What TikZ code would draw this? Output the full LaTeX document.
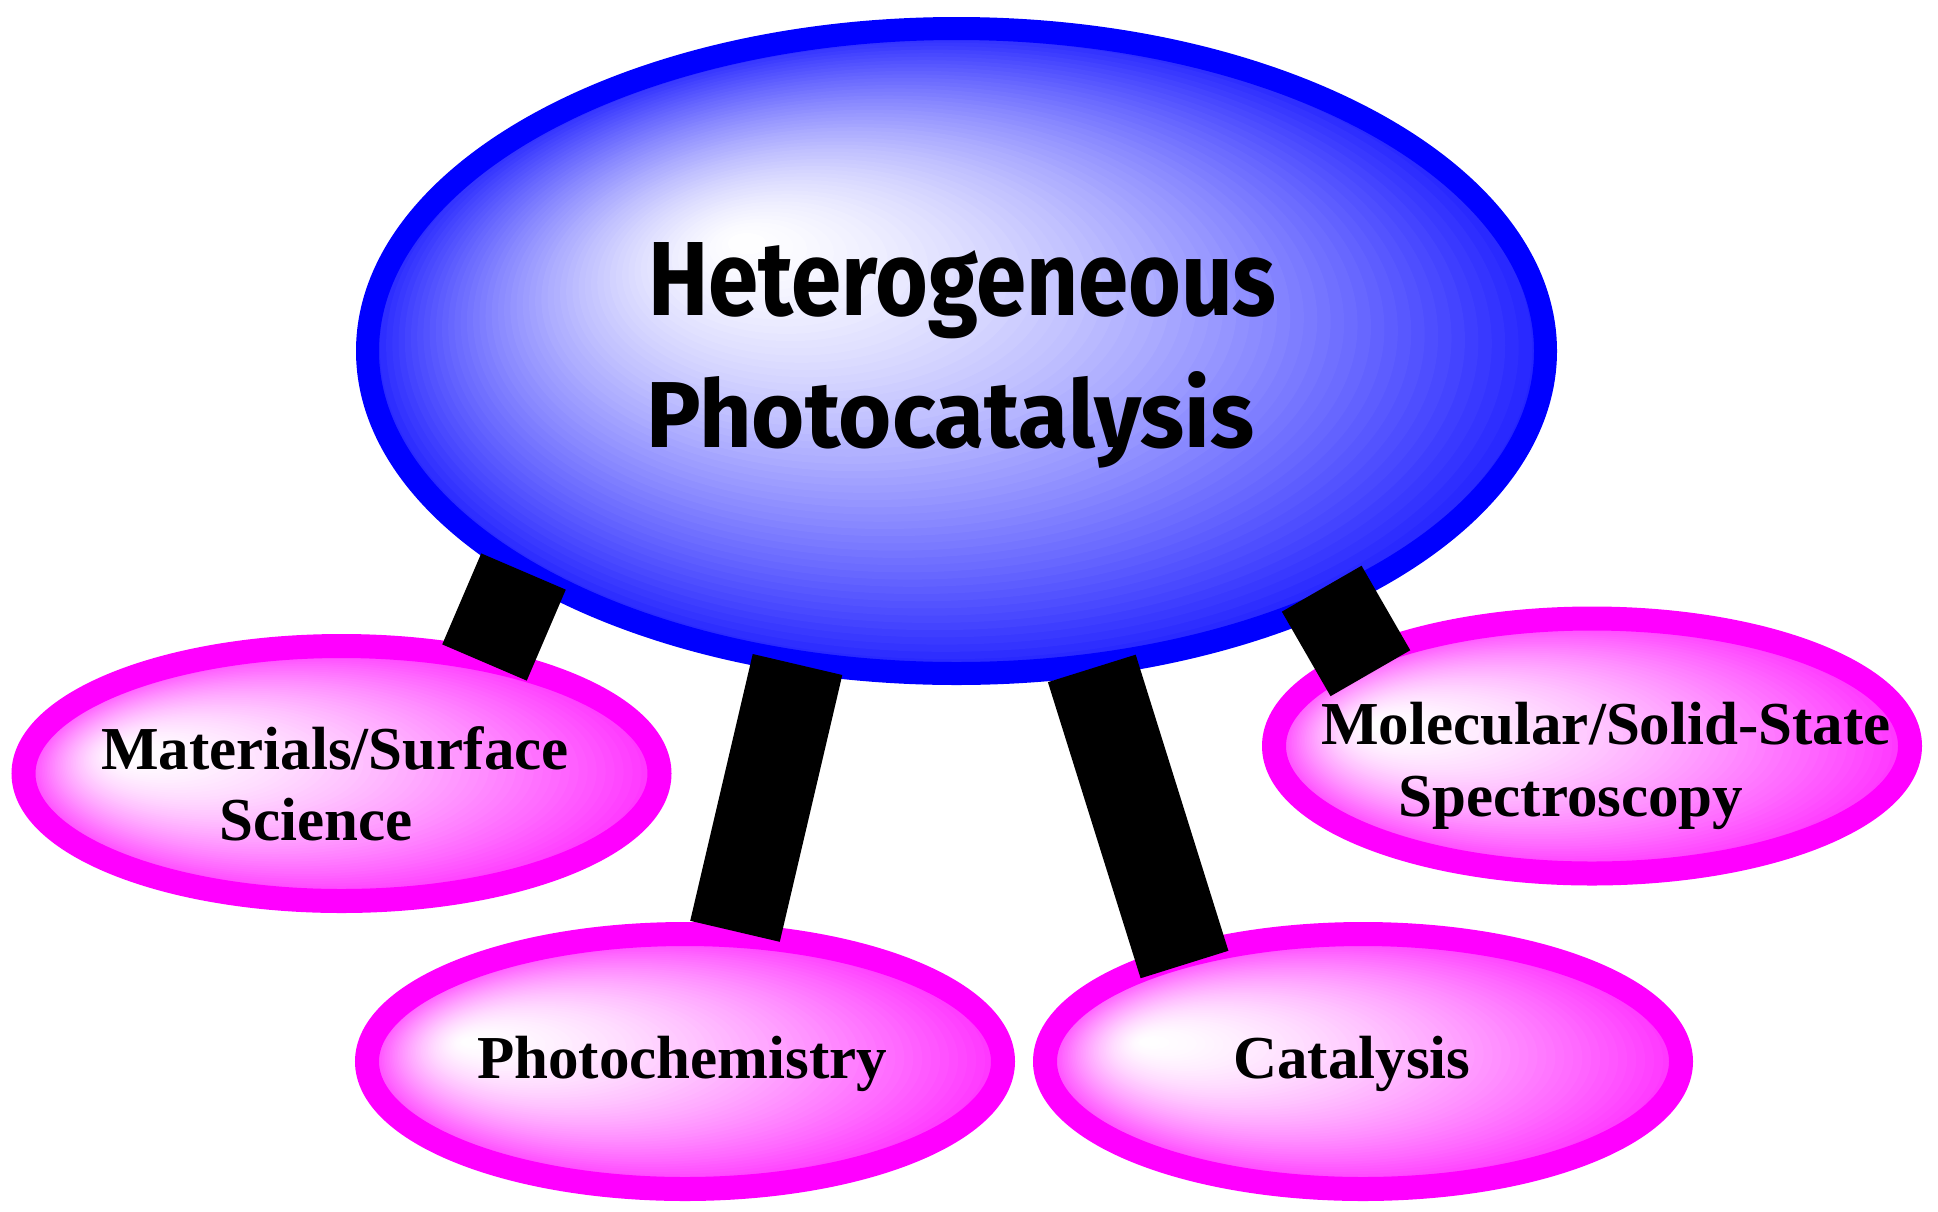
\documentclass[tikz,border=0pt]{standalone}
\usepackage{fontspec}
\setmainfont{Liberation Serif}
\newfontfamily\headfont{Fira Sans}
\usetikzlibrary{shapes.geometric}
\definecolor{pureblue}{RGB}{0,0,255}
\definecolor{mag}{RGB}{255,0,255}
% path gradient: ellipse centre (#1,#2), radii #3,#4, focus (#5,#6), colour #7, exponent #8, rim strength #9
\newcommand{\pathgrad}[9]{%
  \foreach \i in {0,...,59}{%
    \pgfmathsetmacro\gs{1-\i/60}%
    \pgfmathsetmacro\gp{min(100,#9*(\gs)^(#8))}%
    \pgfmathsetmacro\gx{#5+\gs*(#1-#5)}%
    \pgfmathsetmacro\gy{#6+\gs*(#2-#6)}%
    \fill[#7!\gp!white] (\gx,\gy) ellipse [x radius=\gs*#3, y radius=\gs*#4];
  }}
\begin{document}
\begin{tikzpicture}[x=1pt,y=-1pt,
  hub/.style={ellipse, draw=pureblue, line width=23pt, minimum width=1178pt, minimum height=645pt, inner sep=0pt, outer sep=0pt},
  leaf/.style={ellipse, draw=mag, line width=24pt, minimum width=636pt, minimum height=255pt, inner sep=0pt, outer sep=0pt},
  bar/.style={line width=92pt, black, line cap=butt},
  headtxt/.style={font=\headfont\bfseries, anchor=base west, inner sep=0pt},
  lbl/.style={font=\fontsize{61}{70}\selectfont\bfseries, anchor=base, inner sep=0pt}]
\path[use as bounding box, fill=white] (0,0) rectangle (1938,1211);
% gradients
\pathgrad{956.5}{351}{589}{322.5}{740}{240}{pureblue}{1.5}{86}
\pathgrad{341.5}{773.5}{318}{127.5}{121.5}{753.5}{mag}{1.5}{80}
\pathgrad{685}{1061.5}{318}{127.5}{465}{1041.5}{mag}{1.5}{80}
\pathgrad{1363}{1061.5}{318}{127.5}{1143}{1041.5}{mag}{1.5}{80}
\pathgrad{1592}{746}{318}{127.5}{1372}{726}{mag}{1.5}{80}
% shapes
\node[hub] (hub) at (956.5,351) {};
\node[leaf] (mat) at (341.5,773.5) {};
\node[leaf] (pho) at (685,1061.5) {};
\node[leaf] (cat) at (1363,1061.5) {};
\node[leaf] (mol) at (1592,746) {};
% texts
\node[headtxt] (h1) at (648,315) {\resizebox{628pt}{73pt}{Heterogeneous}};
\node[headtxt] (h2) at (646,447) {\resizebox{608pt}{76pt}{Photocatalysis}};
\node[lbl] (m1) at (335,769) {Materials/Surface};
\node[lbl] (m2) at (316,840) {Science};
\node[lbl] (p1) at (682,1078) {Photochemistry};
\node[lbl] (c1) at (1352,1078) {Catalysis};
\node[lbl] (s1) at (1606,744) {Molecular/Solid-State};
\node[lbl] (s2) at (1571,816) {Spectroscopy};
% connectors
\coordinate (b1a) at (523.5,571.5); \coordinate (b1b) at (484.5,662.5);
\coordinate (b2a) at (797.5,664.5); \coordinate (b2b) at (735,931.3);
\coordinate (b3a) at (1091.8,668.4); \coordinate (b3b) at (1184.5,964.5);
\coordinate (b4a) at (1321.7,588.7); \coordinate (b4b) at (1370.4,673.2);
\draw[bar] (b1a) -- (b1b);
\draw[bar] (b2a) -- (b2b);
\draw[bar] (b3a) -- (b3b);
\draw[bar] (b4a) -- (b4b);
\end{tikzpicture}
\end{document}
